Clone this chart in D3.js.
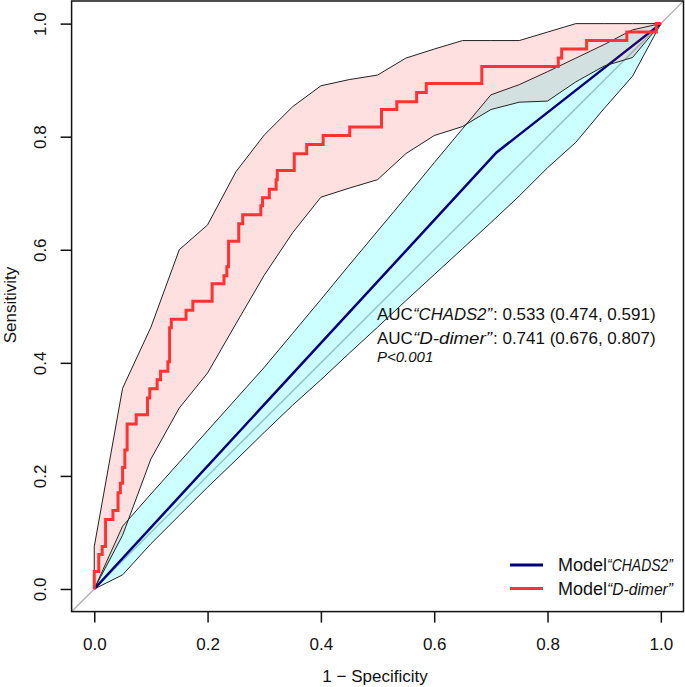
<!DOCTYPE html>
<html>
<head>
<meta charset="utf-8">
<script src="https://cdn.jsdelivr.net/npm/d3@7"></script>
<style>
  body { margin: 0; background: #fff; }
  svg { display: block; font-family: "Liberation Sans", Arial, sans-serif; }
</style>
</head>
<body>
<div id="chart"></div>
<script>
// CI grid (1 - specificity) shared by both bands
const ciFpr = [0, 0.05, 0.10, 0.15, 0.20, 0.25, 0.30, 0.35, 0.40, 0.45, 0.50,
               0.55, 0.60, 0.65, 0.70, 0.75, 0.80, 0.85, 0.90, 0.95, 1.00];

const chadsUpper = [0, 0.111, 0.168, 0.224, 0.280, 0.336, 0.392, 0.452, 0.512, 0.573, 0.633,
                    0.693, 0.754, 0.814, 0.874, 0.892, 0.915, 0.939, 0.963, 0.989, 1.0];
const chadsLower = [0, 0.025, 0.080, 0.130, 0.180, 0.228, 0.277, 0.325, 0.370, 0.417, 0.463,
                    0.510, 0.556, 0.602, 0.648, 0.695, 0.745, 0.790, 0.850, 0.907, 1.0];

const ddimerUpper = [0.075, 0.355, 0.463, 0.600, 0.644, 0.738, 0.803, 0.853, 0.890, 0.901, 0.909,
                     0.939, 0.955, 0.970, 0.970, 0.970, 0.985, 1.0, 1.0, 1.0, 1.0];
const ddimerLower = [0, 0.095, 0.230, 0.320, 0.382, 0.469, 0.555, 0.630, 0.693, 0.709, 0.724,
                     0.770, 0.802, 0.818, 0.848, 0.861, 0.863, 0.897, 0.925, 0.940, 1.0];

// ROC curves
const chadsFpr = [0, 0.71, 1];
const chadsTpr = [0, 0.772, 1];

const ddimerFpr = [0, 0, 0.008, 0.014, 0.020, 0.033, 0.042, 0.046, 0.050, 0.054, 0.058,
                   0.074, 0.094, 0.098, 0.111, 0.117, 0.130, 0.133, 0.136, 0.162, 0.174,
                   0.208, 0.229, 0.234, 0.237, 0.255, 0.262, 0.294, 0.297, 0.309, 0.321,
                   0.323, 0.353, 0.375, 0.404, 0.451, 0.507, 0.534, 0.569, 0.586, 0.684,
                   0.819, 0.825, 0.869, 0.940, 0.992, 1.0];
const ddimerTpr = [0, 0.031, 0.061, 0.075, 0.123, 0.139, 0.170, 0.187, 0.215, 0.246, 0.292,
                   0.308, 0.338, 0.354, 0.370, 0.385, 0.402, 0.462, 0.477, 0.493, 0.509,
                   0.540, 0.554, 0.570, 0.615, 0.646, 0.662, 0.678, 0.692, 0.707, 0.724,
                   0.740, 0.770, 0.786, 0.802, 0.817, 0.848, 0.862, 0.878, 0.894, 0.924,
                   0.939, 0.955, 0.970, 0.985, 1.0, 1.0];

const ticks = [0, 0.2, 0.4, 0.6, 0.8, 1.0];

const aucLines = [
  { label: '“CHADS2”', text: ': 0.533 (0.474, 0.591)' },
  { label: '“D-dimer”', text: ': 0.741 (0.676, 0.807)' }
];
const legendItems = [
  { label: '“CHADS2”', color: '#00007f' },
  { label: '“D-dimer”', color: '#ff3333' }
];

const W = 685, H = 687;
const svg = d3.select('#chart').append('svg')
  .attr('width', W).attr('height', H);

const x = d3.scaleLinear().domain([-0.04, 1.04]).range([71.6, 683.5]);
const y = d3.scaleLinear().domain([-0.04, 1.04]).range([611.6, 1]);

// diagonal reference
svg.append('line')
  .attr('x1', x(-0.04)).attr('y1', y(-0.04))
  .attr('x2', x(1.04)).attr('y2', y(1.04))
  .attr('stroke', '#b8b8b8').attr('stroke-width', 1.5);

function band(upper, lower) {
  const pts = ciFpr.map((f, i) => [x(f), y(upper[i])]);
  for (let i = ciFpr.length - 1; i >= 0; i--) pts.push([x(ciFpr[i]), y(lower[i])]);
  return 'M' + pts.map(p => p.join(',')).join('L') + 'Z';
}

const line = d3.line();

// CHADS2 band + curve
svg.append('path')
  .attr('d', band(chadsUpper, chadsLower))
  .attr('fill', 'rgba(0,255,255,0.2)')
  .attr('stroke', '#222').attr('stroke-width', 1);

svg.append('path')
  .attr('d', line(chadsFpr.map((f, i) => [x(f), y(chadsTpr[i])])))
  .attr('fill', 'none').attr('stroke', '#00007f').attr('stroke-width', 2.5);

// D-dimer band + curve
svg.append('path')
  .attr('d', band(ddimerUpper, ddimerLower))
  .attr('fill', 'rgba(255,0,0,0.12)')
  .attr('stroke', '#222').attr('stroke-width', 1);

svg.append('path')
  .attr('d', d3.line().curve(d3.curveStepAfter)(ddimerFpr.map((f, i) => [x(f), y(ddimerTpr[i])])))
  .attr('fill', 'none').attr('stroke', '#ff3333').attr('stroke-width', 3);

// plot box
svg.append('rect')
  .attr('x', 71.6).attr('y', 1)
  .attr('width', 683.5 - 71.6).attr('height', 611.6 - 1)
  .attr('fill', 'none').attr('stroke', '#111').attr('stroke-width', 1.5);

// axes
const fmt = d3.format('.1f');
const gx = svg.append('g')
  .attr('transform', `translate(0,611.6)`)
  .call(d3.axisBottom(x).tickValues(ticks).tickFormat(fmt).tickSize(11).tickPadding(15));
const gy = svg.append('g')
  .attr('transform', `translate(71.6,0)`)
  .call(d3.axisLeft(y).tickValues(ticks).tickFormat(fmt).tickSize(11));

[gx, gy].forEach(g => {
  g.select('.domain').remove();
  g.selectAll('line').attr('stroke', '#111').attr('stroke-width', 1.5);
  g.selectAll('text')
    .attr('font-family', '"Liberation Sans", Arial, sans-serif')
    .attr('font-size', 17).attr('fill', '#111');
});

gy.selectAll('text')
  .attr('x', null).attr('dy', null)
  .attr('text-anchor', 'middle')
  .attr('transform', 'translate(-26,0) rotate(-90)');

// axis titles
svg.append('text')
  .attr('x', 375).attr('y', 682)
  .attr('text-anchor', 'middle').attr('font-size', 17).attr('fill', '#111')
  .text('1 − Specificity');

svg.append('text')
  .attr('transform', 'translate(16,305) rotate(-90)')
  .attr('text-anchor', 'middle').attr('font-size', 17).attr('fill', '#111')
  .text('Sensitivity');

// AUC annotation
const ann = svg.append('g').attr('fill', '#111');
aucLines.forEach((d, i) => {
  const t = ann.append('text').attr('y', 320 + i * 24).attr('font-size', 17);
  t.append('tspan').attr('x', 377).text('AUC');
  t.append('tspan').attr('x', 413).attr('font-style', 'italic')
    .attr('textLength', 79).attr('lengthAdjust', 'spacingAndGlyphs').text(d.label);
  t.append('tspan').attr('x', 493).text(d.text);
});
ann.append('text')
  .attr('x', 377).attr('y', 362)
  .attr('font-size', 15).attr('font-style', 'italic')
  .text('P<0.001');

// legend
const leg = svg.append('g');
legendItems.forEach((d, i) => {
  const ly = 565 + i * 23.5;
  leg.append('line')
    .attr('x1', 510).attr('x2', 543).attr('y1', ly).attr('y2', ly)
    .attr('stroke', d.color).attr('stroke-width', 3);
  const t = leg.append('text').attr('y', ly + 6).attr('font-size', 18).attr('fill', '#111');
  t.append('tspan').attr('x', 558).text('Model');
  t.append('tspan').attr('x', 607).attr('font-style', 'italic').attr('font-size', 16)
    .attr('textLength', 66).attr('lengthAdjust', 'spacingAndGlyphs').text(d.label);
});
</script>
</body>
</html>
